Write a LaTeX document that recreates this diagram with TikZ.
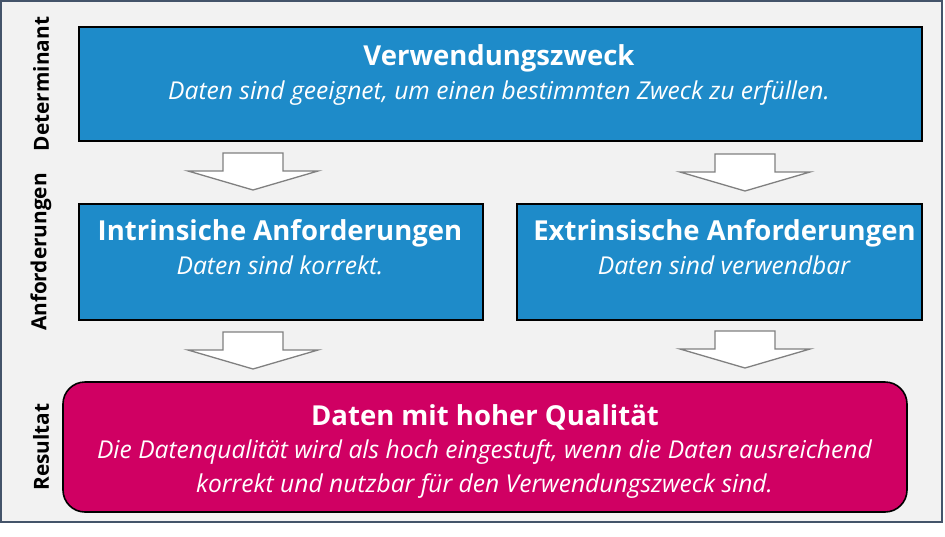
\documentclass[tikz,border=0pt]{standalone}
\usepackage{fontspec}
\setmainfont{Open Sans}
\definecolor{boxblue}{HTML}{1E8BC9}
\definecolor{boxred}{HTML}{D00063}
\definecolor{frame}{HTML}{44546A}
\definecolor{backgr}{HTML}{F2F2F2}
\tikzset{
  block/.style = {draw=black, line width=1.6pt, fill=boxblue, inner sep=0pt},
  result/.style = {block, fill=boxred, rounded corners=22pt},
  headline/.style = {text=white, anchor=base, inner sep=0pt, font=\fontsize{27.5}{32}\selectfont\bfseries},
  subline/.style = {text=white, anchor=base, inner sep=0pt, font=\fontsize{24.6}{30}\selectfont\itshape},
  level/.style = {rotate=90, font=\fontsize{20.8}{24}\selectfont\bfseries},
  blockarrow/.style = {draw=gray, line width=1.3pt, fill=white, line join=miter}
}
\begin{document}
\begin{tikzpicture}[x=1pt,y=-1pt]
  \useasboundingbox (0,0) rectangle (945,536);
  \draw[frame, line width=2pt, fill=backgr] (1,1) rectangle (942,522);
  % levels
  \node[level] (det) at (41,84) {Determinant};
  \node[level] (anf) at (41,252) {Anforderungen};
  \node[level] (res) at (41,447) {Resultat};
  % boxes
  \node[block, minimum width=843pt, minimum height=114pt] (zweck) at (500.5,84) {};
  \node[block, minimum width=404pt, minimum height=116pt] (intr) at (281,262) {};
  \node[block, minimum width=405pt, minimum height=116pt] (extr) at (719.5,262) {};
  \node[result, minimum width=844pt, minimum height=130pt] (qual) at (485,447) {};
  % texts
  \node[headline] (zweckT) at (499,65) {Verwendungszweck};
  \node[subline] (zweckS) at (499,99) {Daten sind geeignet, um einen bestimmten Zweck zu erfüllen.};
  \node[headline] (intrT) at (280,240) {Intrinsiche Anforderungen};
  \node[subline] (intrS) at (280,274) {Daten sind korrekt.};
  \node[headline] (extrT) at (724.5,240) {Extrinsische Anforderungen};
  \node[subline] (extrS) at (724,274) {Daten sind verwendbar};
  \node[headline] (qualT) at (485,425) {Daten mit hoher Qualität};
  \node[subline] (qualA) at (484.5,458) {Die Datenqualität wird als hoch eingestuft, wenn die Daten ausreichend};
  \node[subline] (qualB) at (484.5,492) {korrekt und nutzbar für den Verwendungszweck sind.};
  % arrows
  \foreach \x/\y in {253/153, 745/154, 253/332, 745/331}{
    \draw[blockarrow] (\x-30,\y) --++ (60,0) --++ (0,18) --++ (35,0)
                      --++ (-65,19) --++ (-65,-19) --++ (35,0) -- cycle;
  }
\end{tikzpicture}
\end{document}
